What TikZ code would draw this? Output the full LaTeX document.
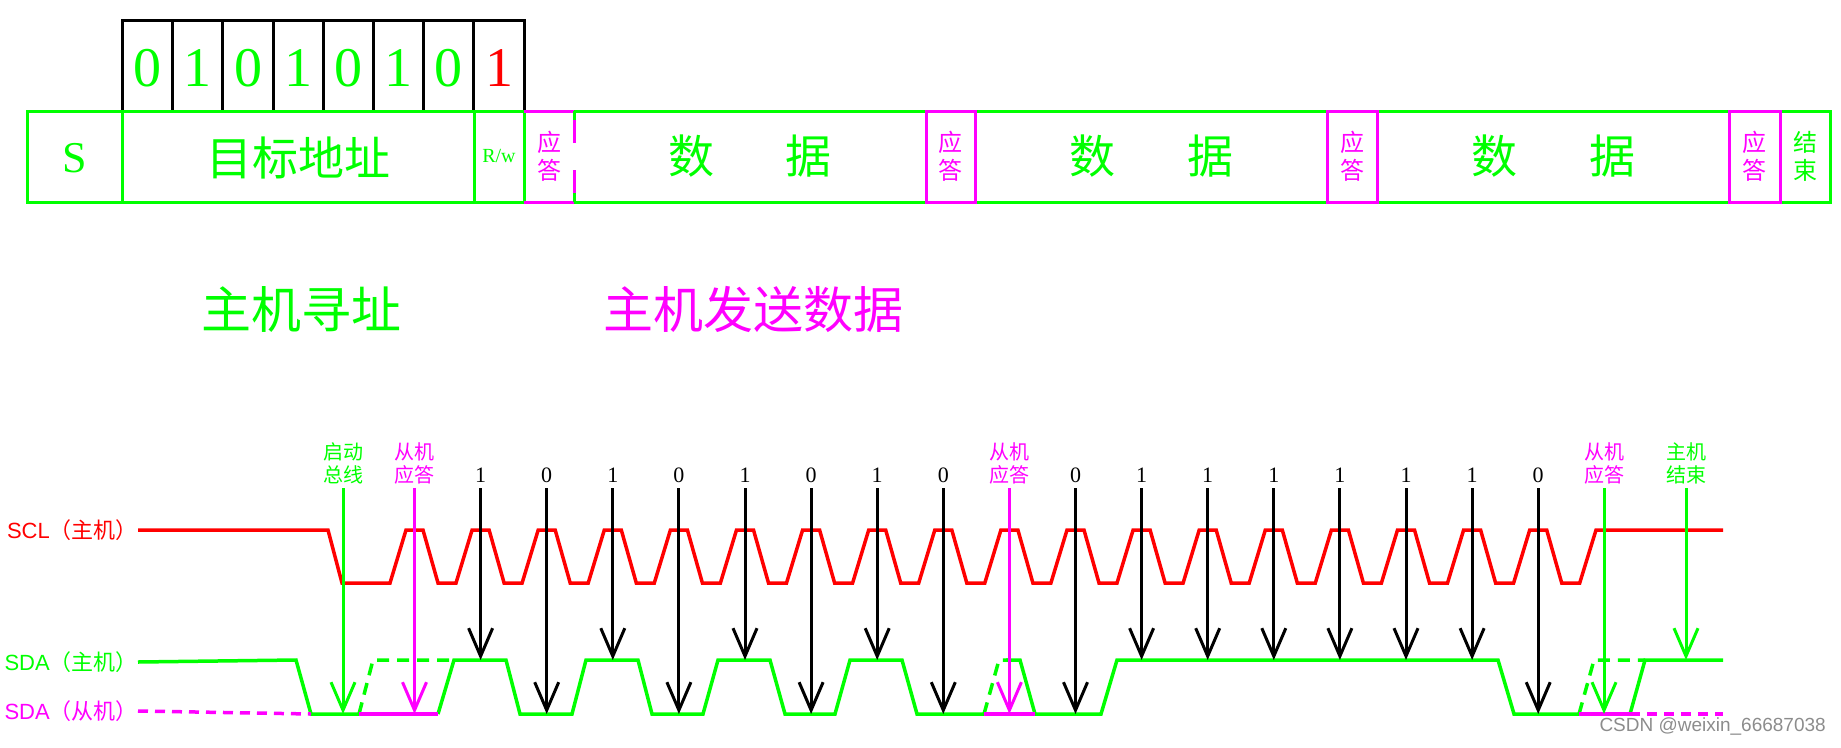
\documentclass[tikz,border=0pt]{standalone}
\usepackage{fontspec}
\setmainfont{Liberation Serif}
\newfontfamily\cjk{Noto Sans CJK SC}
\newfontfamily\lsans{Liberation Sans}
\usetikzlibrary{arrows.meta}
\definecolor{G}{RGB}{0,255,0}
\definecolor{M}{RGB}{255,0,255}
\definecolor{R}{RGB}{255,0,0}
\newcommand{\fs}[1]{\fontsize{#1}{#1}\selectfont}
\begin{document}
\begin{tikzpicture}[x=1pt,y=-1pt,
  cell/.style={draw=G,line width=3pt},
  bit/.style={draw=black,line width=3pt},
  ack/.style={draw=M,line width=3pt},
  wave/.style={line width=3.5pt,line join=miter},
  arr/.style={line width=3pt,-{Straight Barb[length=28pt,width=24pt,line width=3pt]}},
  lab/.style={inner sep=0pt,align=center,font=\cjk\fs{20}},
  dig/.style={inner sep=0pt,font=\fs{22}}]
\useasboundingbox (0,0) rectangle (1841,747);
% ---- bit boxes
\foreach \i/\v in {0/0,1/1,2/0,3/1,4/0,5/1,6/0,7/1}{
  \draw[bit] ({122.5+50.2*\i},20) rectangle ({122.5+50.2*(\i+1)},111);
}
\foreach \i/\v in {0/0,1/1,2/0,3/1,4/0,5/1,6/0}{
  \node[text=G,inner sep=0pt,font=\fs{56}] (b\i) at ({147.6+50.2*\i},68) {\v};
}
\node[text=R,inner sep=0pt,font=\fs{56}] (b7) at ({147.6+50.2*7},68) {1};
% ---- main row
\draw[cell] (27.5,111) rectangle (1830,202);
\foreach \x in {122.5,474,524,1780}{\draw[cell] (\x,111) -- (\x,202);}
\draw[M,line width=3pt] (524,111) -- (574,111) (524,202) -- (574,202);
\draw[G,line width=3pt] (574,111) -- (574,120) (574,193) -- (574,202);
\draw[M,line width=3pt] (574,120) -- (574,143) (574,170) -- (574,193);
\draw[ack] (926,111) rectangle (975,202);
\draw[ack] (1327,111) rectangle (1377,202);
\draw[ack] (1729,111) rectangle (1780,202);
\node[text=G,inner sep=0pt,font=\fs{44}] (s) at (75,158) {S};
\node[text=G,inner sep=0pt,font=\cjk\fs{46}] (addr) at (298,158) {目标地址};
\node[text=G,inner sep=0pt,font=\fs{20}] (rw) at (499,156) {R/w};
\foreach \n/\x in {a1/549,a2/950.5,a3/1352,a4/1754.5}{
  \node[text=M,lab,font=\cjk\fs{24},text width=28pt] (\n) at (\x,156) {应\\[4pt]答};
}
\node[text=G,lab,font=\cjk\fs{24}] (end) at (1805,156) {结\\[4pt]束};
\foreach \n/\x in {d1/750,d2/1151,d3/1553}{
  \node[text=G,inner sep=0pt,font=\cjk\fs{46}] (\n) at (\x,156) {数\hspace{72pt}据};
}
\node[text=G,inner sep=0pt,font=\cjk\fs{50}] (t1) at (301,309) {主机寻址};
\node[text=M,inner sep=0pt,font=\cjk\fs{50}] (t2) at (753,309) {主机发送数据};
% ---- signal labels
\node[text=R,inner sep=0pt,anchor=east,font=\lsans\fs{22}] (scl) at (138,530) {SCL\cjk（主机）};
\node[text=G,inner sep=0pt,anchor=east,font=\lsans\fs{22}] (sdam) at (138,662) {SDA\cjk（主机）};
\node[text=M,inner sep=0pt,anchor=east,font=\lsans\fs{22}] (sdas) at (138,711) {SDA\cjk（从机）};
% ---- SCL
\draw[R,wave] (scl.east) -- (328,530) -- (342,583) -- (390,583)
  \foreach \k in {0,...,17}{ -- ({406+66.1*\k},530) -- ({423+66.1*\k},530) -- ({438+66.1*\k},583) -- ({456+66.1*\k},583)}
  -- (1596,530) -- (1723,530);
% ---- SDA master
\draw[G,wave] (sdam.east) -- (296,660) -- (311,714) -- (359,714);
\draw[G,wave,dashed,dash pattern=on 12pt off 8pt] (359,714) -- (373,660) -- (454,660);
\draw[G,wave] (438,714) -- (454,660) -- (506,660) -- (520,714) -- (572,714) -- (586,660) -- (638,660) -- (652,714) -- (703,714) -- (718,660) -- (770,660) -- (785,714) -- (835,714) -- (850,660) -- (902,660) -- (917,714) -- (984,714);
\draw[G,wave,dash pattern=on 12pt off 8pt] (984,714) -- (999,660) -- (1008,660);
\draw[G,wave] (1006,660) -- (1020,660) -- (1035,714) -- (1101,714) -- (1117,660) -- (1498,660) -- (1514,714) -- (1579,714);
\draw[G,wave,dash pattern=on 12pt off 8pt] (1579,714) -- (1594,660) -- (1645,660);
\draw[G,wave] (1630,714) -- (1645,660) -- (1723,660);
% ---- SDA slave
\draw[M,wave,dash pattern=on 10pt off 7pt] (sdas.east) -- (311,714);
\draw[M,wave] (359,714) -- (438,714);
\draw[M,wave] (984,714) -- (1035,714);
\draw[M,wave] (1579,714) -- (1630,714);
\draw[M,wave,dash pattern=on 10pt off 7pt] (1630,714) -- (1723,714);
% ---- arrows
\coordinate (gs0) at (343,488); \coordinate (gs1) at (343,714);
\draw[G,arr] (gs0) -- (gs1);
\node[lab,text=G] (lstart) at (343,463) {启动\\[3pt]总线};
\foreach \k/\v/\y in {1/1/660,2/0/714,3/1/660,4/0/714,5/1/660,6/0/714,7/1/660,8/0/714,10/0/714,11/1/660,12/1/660,13/1/660,14/1/660,15/1/660,16/1/660,17/0/714}{
  \coordinate (p\k) at ({414.5+66.1*\k},488);
  \coordinate (q\k) at ({414.5+66.1*\k},\y);
  \draw[black,arr] (p\k) -- (q\k);
  \node[dig] (n\k) at ({414.5+66.1*\k},475) {\v};
}
\foreach \k in {0,9}{
  \coordinate (p\k) at ({414.5+66.1*\k},488);
  \coordinate (q\k) at ({414.5+66.1*\k},714);
  \draw[M,arr] (p\k) -- (q\k);
  \node[lab,text=M] (n\k) at ({414.5+66.1*\k},463) {从机\\[3pt]应答};
}
\coordinate (p18) at (1604,488); \coordinate (q18) at (1604,714);
\draw[G,arr] (p18) -- (q18);
\node[lab,text=M] (n18) at (1604,463) {从机\\[3pt]应答};
\coordinate (pe) at (1686,488); \coordinate (qe) at (1686,660);
\draw[G,arr] (pe) -- (qe);
\node[lab,text=G] (ne) at (1686,463) {主机\\[3pt]结束};
\node[text=black!45,inner sep=0pt,anchor=east,font=\lsans\fs{19}] (wm) at (1826,726) {CSDN @weixin\_66687038};
\end{tikzpicture}
\end{document}
